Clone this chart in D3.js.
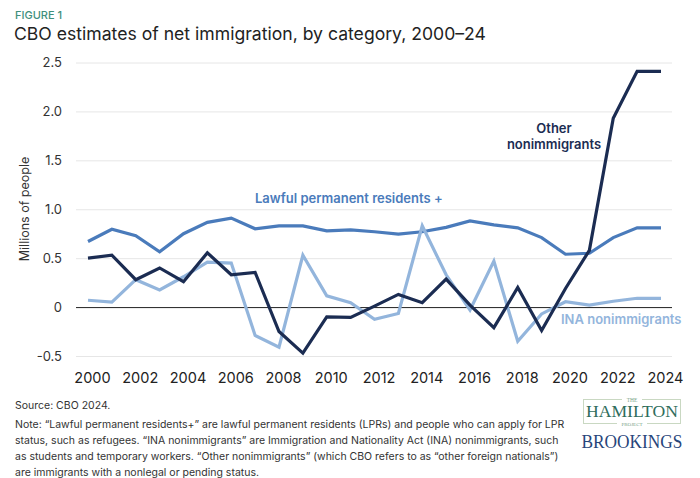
<!DOCTYPE html>
<html>
<head>
<meta charset="utf-8">
<script src="https://cdn.jsdelivr.net/npm/d3@7"></script>
<style>
  body { margin: 0; background: #fff; }
  svg text { font-family: Inter, "Noto Sans", sans-serif; }
</style>
</head>
<body>
<div id="wrapper"></div>
<script>
// data
const years = d3.range(2000, 2025)
const lawfulPermanent = [0.67, 0.795, 0.73, 0.565, 0.75, 0.866, 0.91, 0.80, 0.83, 0.83, 0.78, 0.79, 0.77,
    0.746, 0.77, 0.815, 0.88, 0.84, 0.81, 0.71, 0.54, 0.55, 0.71, 0.81, 0.81]
const inaNonimmigrants = [0.07, 0.05, 0.28, 0.175, 0.31, 0.46, 0.45, -0.29, -0.41, 0.53, 0.115, 0.045, -0.125,
    -0.065, 0.83, 0.33, -0.03, 0.47, -0.35, -0.07, 0.055, 0.02, 0.06, 0.09, 0.09]
const otherNonimmigrants = [0.50, 0.53, 0.28, 0.40, 0.26, 0.555, 0.33, 0.355, -0.25, -0.47, -0.10, -0.105, 0.01,
    0.13, 0.045, 0.286, 0.02, -0.21, 0.20, -0.24, 0.19, 0.58, 1.93, 2.41, 2.41]
const yTicks = [-0.5, 0, 0.5, 1.0, 1.5, 2.0, 2.5]
const xTicks = [2000, 2002, 2004, 2006, 2008, 2010, 2012, 2014, 2016, 2018, 2020, 2022, 2024]
const noteLines = [
    "Note: \u201cLawful permanent residents+\u201d are lawful permanent residents (LPRs) and people who can apply for LPR",
    "status, such as refugees. \u201cINA nonimmigrants\u201d are Immigration and Nationality Act (INA) nonimmigrants, such",
    "as students and temporary workers. \u201cOther nonimmigrants\u201d (which CBO refers to as \u201cother foreign nationals\u201d)",
    "are immigrants with a nonlegal or pending status."
]

const colors = {
    lpr: "#4a7bbb",
    ina: "#93b5dc",
    other: "#1b2c52"
}

const width = 700
const height = 478

const svg = d3.select("#wrapper")
    .append("svg")
    .attr("width", width)
    .attr("height", height)

const xScale = d3.scaleLinear()
    .domain([2000, 2024])
    .range([88, 661])

const yScale = d3.scaleLinear()
    .domain([-0.5, 2.5])
    .range([356, 62.5])

// header
svg.append("text")
    .attr("x", 15).attr("y", 18.5)
    .attr("fill", "#3f8f7d")
    .style("font-size", "11px")
    .style("font-weight", 500)
    .text("FIGURE 1")

svg.append("text")
    .attr("x", 14).attr("y", 40)
    .attr("fill", "#222")
    .style("font-size", "17.6px")
    .text("CBO estimates of net immigration, by category, 2000\u201324")

// gridlines + y labels
const yAxis = svg.append("g")
    .attr("transform", "translate(76,0)")
    .call(d3.axisLeft(yScale)
        .tickValues(yTicks)
        .tickSize(-596)
        .tickPadding(14)
        .tickFormat(d => d === 0 ? "0" : d.toFixed(1)))
yAxis.select(".domain").remove()
yAxis.selectAll(".tick line")
    .attr("stroke", d => d === 0 ? "#222" : "#e6e6e6")
    .attr("stroke-width", 1)
yAxis.selectAll(".tick text")
    .attr("fill", "#333")
    .style("font-size", "13px")

svg.append("text")
    .attr("transform", "translate(29,209) rotate(-90)")
    .attr("text-anchor", "middle")
    .attr("fill", "#333")
    .style("font-size", "12.5px")
    .text("Millions of people")

// x labels
const xAxis = svg.append("g")
    .attr("transform", "translate(0,370)")
    .call(d3.axisBottom(xScale)
        .tickValues(xTicks)
        .tickSize(0)
        .tickFormat(d3.format("d")))
xAxis.select(".domain").remove()
xAxis.selectAll(".tick text")
    .attr("dx", 4)
    .attr("fill", "#222")
    .style("font-size", "14.5px")

// lines
const line = d3.line()
    .x((d, i) => xScale(years[i]))
    .y(d => yScale(d))

const series = [
    { key: "lpr", values: lawfulPermanent },
    { key: "ina", values: inaNonimmigrants },
    { key: "other", values: otherNonimmigrants }
]

svg.selectAll("path.series")
    .data(series)
    .join("path")
    .attr("class", "series")
    .attr("d", d => line(d.values))
    .attr("fill", "none")
    .attr("stroke", d => colors[d.key])
    .attr("stroke-width", 3.2)
    .attr("stroke-linejoin", "miter")

// direct labels
svg.append("text")
    .attr("x", 255).attr("y", 203)
    .attr("fill", colors.lpr)
    .style("font-size", "13px")
    .style("font-weight", 600)
    .text("Lawful permanent residents +")

svg.append("text")
    .attr("x", 554).attr("y", 133)
    .attr("text-anchor", "middle")
    .attr("fill", colors.other)
    .style("font-size", "13px")
    .style("font-weight", 600)
    .selectAll("tspan")
    .data(["Other", "nonimmigrants"])
    .join("tspan")
    .attr("x", 554)
    .attr("dy", (d, i) => i === 0 ? 0 : 15.5)
    .text(d => d)

svg.append("text")
    .attr("x", 561).attr("y", 324)
    .attr("fill", colors.ina)
    .style("font-size", "13px")
    .style("font-weight", 600)
    .text("INA nonimmigrants")

// footer
svg.append("text")
    .attr("x", 15).attr("y", 409)
    .attr("fill", "#333")
    .style("font-size", "10.5px")
    .text("Source: CBO 2024.")

svg.append("g")
    .selectAll("text")
    .data(noteLines)
    .join("text")
    .attr("x", 15)
    .attr("y", (d, i) => 428 + i * 16)
    .attr("fill", "#333")
    .style("font-size", "10.5px")
    .text(d => d)

// logos
const logo = svg.append("g")
logo.append("rect")
    .attr("x", 583.5).attr("y", 399.5)
    .attr("width", 97).attr("height", 24)
    .attr("fill", "none")
    .attr("stroke", "#c9d8c2")
logo.append("rect")
    .attr("x", 622).attr("y", 396)
    .attr("width", 20).attr("height", 7)
    .attr("fill", "#fff")
logo.append("text")
    .attr("x", 632).attr("y", 402)
    .attr("text-anchor", "middle")
    .attr("fill", "#7a9f88")
    .style("font-family", "'Liberation Serif', serif")
    .style("font-size", "5.5px")
    .text("THE")
logo.append("text")
    .attr("x", 632).attr("y", 417)
    .attr("text-anchor", "middle")
    .attr("fill", "#2f6d5c")
    .style("font-family", "'Liberation Serif', serif")
    .style("font-size", "16.5px")
    .attr("textLength", 92)
    .attr("lengthAdjust", "spacingAndGlyphs")
    .text("HAMILTON")
logo.append("rect")
    .attr("x", 617).attr("y", 420)
    .attr("width", 30).attr("height", 7)
    .attr("fill", "#fff")
logo.append("text")
    .attr("x", 632).attr("y", 426)
    .attr("text-anchor", "middle")
    .attr("fill", "#7a9f88")
    .style("font-family", "'Liberation Serif', serif")
    .style("font-size", "5px")
    .text("PROJECT")
logo.append("text")
    .attr("x", 632).attr("y", 448)
    .attr("text-anchor", "middle")
    .attr("fill", "#27457a")
    .style("font-family", "'Liberation Serif', serif")
    .style("font-size", "19px")
    .attr("textLength", 101)
    .attr("lengthAdjust", "spacingAndGlyphs")
    .text("BROOKINGS")
</script>
</body>
</html>
